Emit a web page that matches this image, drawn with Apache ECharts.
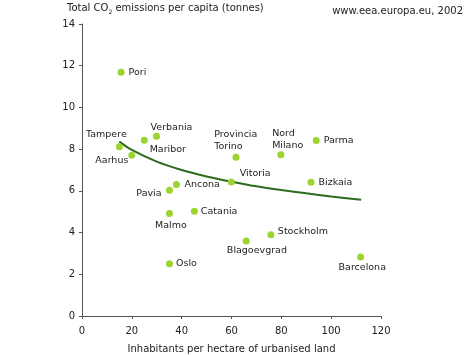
<!DOCTYPE html>
<html>
<head>
<meta charset="utf-8">
<script src="https://cdn.jsdelivr.net/npm/echarts@6/dist/echarts.min.js"></script>
<style>html,body{margin:0;padding:0;background:#fff}#c{width:474px;height:355px}</style>
</head>
<body>
<div id="c"></div>
<script>
// ---- data ----
var cities = ['Pori','Tampere','Aarhus','Maribor','Verbania','Pavia','Ancona','Malmo','Catania','Oslo','Provincia\nTorino','Vitoria','Nord\nMilano','Parma','Bizkaia','Stockholm','Blagoevgrad','Barcelona'];
var density = [15.7, 15.0, 20.0, 25.0, 29.9, 35.1, 37.9, 35.1, 45.1, 35.1, 61.8, 59.9, 79.8, 94.0, 91.9, 75.8, 65.9, 111.8];
var emissions = [11.69, 8.11, 7.71, 8.43, 8.62, 6.03, 6.30, 4.91, 5.02, 2.50, 7.61, 6.43, 7.73, 8.41, 6.41, 3.90, 3.60, 2.83];
var trendX = [15, 20, 30, 40, 50, 60, 70, 80, 90, 100, 112];
var trendY = [8.36, 7.96, 7.40, 7.00, 6.69, 6.44, 6.22, 6.04, 5.88, 5.73, 5.57];
var xTicks = [0, 20, 40, 60, 80, 100, 120];
var yTicks = [0, 2, 4, 6, 8, 10, 12, 14];

// ---- label placement (style) ----
var labelStyle = {
  'Pori': {position:'right', distance:4},
  'Tampere': {position:'inside', offset:[-13,-12]},
  'Aarhus': {position:'inside', offset:[-20,5]},
  'Maribor': {position:'inside', offset:[23.5,9]},
  'Verbania': {position:'inside', offset:[15,-9]},
  'Pavia': {position:'inside', offset:[-20.5,3.5]},
  'Ancona': {position:'right', distance:4.5},
  'Malmo': {position:'inside', offset:[1.5,11.5]},
  'Catania': {position:'right', distance:3},
  'Oslo': {position:'right', distance:3},
  'Provincia\nTorino': {position:'inside', offset:[-21.7,-16.5], align:'left'},
  'Vitoria': {position:'inside', offset:[24,-8.5]},
  'Nord\nMilano': {position:'inside', offset:[-8.7,-15], align:'left'},
  'Parma': {position:'right', distance:4},
  'Bizkaia': {position:'right', distance:4},
  'Stockholm': {position:'right', distance:3.5, offset:[0,-3]},
  'Blagoevgrad': {position:'inside', offset:[10.7,10]},
  'Barcelona': {position:'inside', offset:[1.7,11]}
};

var FONT = 'DejaVu Sans';
var TXT = '#222';

var scatterData = cities.map(function (c, i) {
  var ls = labelStyle[c];
  var lab = {show:true, formatter:c, position:ls.position, fontFamily:FONT, fontSize:9.5, color:TXT, lineHeight:12.5};
  if (ls.distance !== undefined) lab.distance = ls.distance;
  if (ls.offset) lab.offset = ls.offset;
  if (ls.align) lab.align = ls.align;
  return {name:c, value:[density[i], emissions[i]], label:lab};
});
var trendData = trendX.map(function (x, i) { return [x, trendY[i]]; });

var chart = echarts.init(document.getElementById('c'), null, {renderer:'canvas'});
chart.setOption({
  animation:false,
  backgroundColor:'#fff',
  title:[{
    text:'{a|Total CO}{s|2}{a| emissions per capita (tonnes)}',
    left:62, top:-3,
    textStyle:{fontWeight:'normal', rich:{
      a:{fontFamily:FONT, fontSize:10, fontWeight:'normal', color:TXT, lineHeight:13},
      s:{fontFamily:FONT, fontSize:6, fontWeight:'normal', color:TXT, verticalAlign:'bottom', lineHeight:13, padding:[4,0,0,0]}
    }}
  },{
    text:'www.eea.europa.eu, 2002',
    right:6, top:1,
    textStyle:{fontFamily:FONT, fontSize:10, fontWeight:'normal', color:TXT}
  }],
  grid:{left:82, right:93, top:24, bottom:39, containLabel:false, outerBoundsMode:'none'},
  xAxis:{
    type:'value', min:xTicks[0], max:xTicks[xTicks.length-1], interval:20,
    name:'Inhabitants per hectare of urbanised land', nameLocation:'middle', nameGap:28,
    nameTextStyle:{fontFamily:FONT, fontSize:10, color:TXT},
    axisLine:{show:true, lineStyle:{color:'#555', width:1}},
    axisTick:{show:true, length:3, lineStyle:{color:'#555'}},
    axisLabel:{fontFamily:FONT, fontSize:10, color:TXT, margin:10},
    splitLine:{show:false}
  },
  yAxis:{
    type:'value', min:yTicks[0], max:yTicks[yTicks.length-1], interval:2,
    axisLine:{show:true, lineStyle:{color:'#555', width:1}},
    axisTick:{show:true, length:3, lineStyle:{color:'#555'}},
    axisLabel:{fontFamily:FONT, fontSize:10, color:TXT, margin:7},
    splitLine:{show:false}
  },
  series:[{
    type:'line', data:trendData, smooth:0.3, showSymbol:false, symbol:'none',
    lineStyle:{color:'#2c6b1c', width:2}, z:1, silent:true
  },{
    type:'scatter', data:scatterData, symbol:'circle', symbolSize:7,
    itemStyle:{color:'#9bd430', opacity:1}, z:2
  }]
});
</script>
</body>
</html>
